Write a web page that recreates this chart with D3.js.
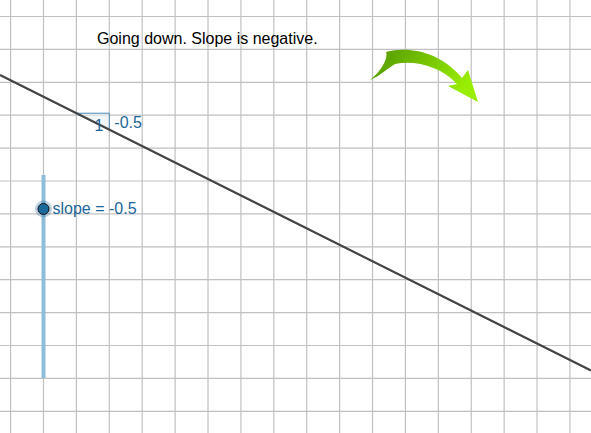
<!DOCTYPE html>
<html><head><meta charset="utf-8">
<script src="https://cdn.jsdelivr.net/npm/d3@7"></script>
<style>body{margin:0;background:#fff}svg{display:block}</style>
</head><body>
<script>
const W=591,H=433;
const slopeValues=[-0.5];
const intercepts=[-1.94];
const triangleStart=[2];
const sliderRange=[-4.82,-10.99];
const sliderValue=[-5.85];
const title=["Going down. Slope is negative."];
const xTicks=d3.range(0,18);
const yTicks=d3.range(-13,1);

const x=d3.scaleLinear().domain([-0.322,17.64]).range([0,W]);
const y=d3.scaleLinear().domain([0.5015,-12.66]).range([0,H]);
const svg=d3.select("body").append("svg").attr("width",W).attr("height",H);
const FONT="Liberation Sans, Arial";

svg.append("g").selectAll("line").data(xTicks).join("line")
 .attr("x1",d=>x(d)).attr("x2",d=>x(d)).attr("y1",0).attr("y2",H)
 .attr("stroke","#c0c0c0").attr("stroke-width",1.2);
svg.append("g").selectAll("line").data(yTicks).join("line")
 .attr("y1",d=>y(d)).attr("y2",d=>y(d)).attr("x1",0).attr("x2",W)
 .attr("stroke","#c0c0c0").attr("stroke-width",1.2);

const m=slopeValues[0],b=intercepts[0];
const f=t=>m*t+b;
const t0=triangleStart[0];
svg.append("path").attr("d",`M${x(t0)},${y(f(t0))}L${x(t0+1)},${y(f(t0))}L${x(t0+1)},${y(f(t0+1))}Z`)
 .attr("fill","#e8f0f5").attr("fill-opacity",0.6).attr("stroke","#4a8ab5").attr("stroke-width",1);
const xd=x.domain();
svg.append("line").attr("x1",x(xd[0])).attr("y1",y(f(xd[0]))).attr("x2",x(xd[1])).attr("y2",y(f(xd[1])))
 .attr("stroke","#444").attr("stroke-width",2.2);
svg.append("text").attr("x",x(t0+0.55)).attr("y",y(f(t0))+18).text("1")
 .attr("font-family",FONT).attr("font-size",16).attr("fill","#1e6699");
svg.append("text").attr("x",x(t0+1)+5).attr("y",y(f(t0))+15).text(String(m))
 .attr("font-family",FONT).attr("font-size",16).attr("fill","#1e6699");

svg.append("line").attr("x1",x(1)).attr("x2",x(1)).attr("y1",y(sliderRange[0])).attr("y2",y(sliderRange[1]))
 .attr("stroke","#8fbcd8").attr("stroke-width",4);
svg.append("circle").attr("cx",x(1)).attr("cy",y(sliderValue[0])).attr("r",8.5).attr("fill","#1e6699").attr("fill-opacity",0.3);
svg.append("circle").attr("cx",x(1)).attr("cy",y(sliderValue[0])).attr("r",5.5).attr("fill","#1a6a9c").attr("stroke","#111").attr("stroke-width",1);
svg.append("text").attr("x",x(1)+9).attr("y",y(sliderValue[0])+5).text("slope = "+m)
 .attr("font-family",FONT).attr("font-size",16).attr("fill","#1e6699");

svg.append("text").attr("x",97).attr("y",44).text(title[0])
 .attr("font-family",FONT).attr("font-size",16).attr("fill","#000");

const g=svg.append("defs").append("linearGradient").attr("id","gr").attr("x1","0").attr("x2","1").attr("y1","0").attr("y2","0.3");
g.append("stop").attr("offset","0").attr("stop-color","#4f9400");
g.append("stop").attr("offset","1").attr("stop-color","#99ee00");
svg.append("path").attr("d","M370,80 C385,68 388,55 386,52 C410,46 440,52 462,78 L468,70 L478,102 L448,86 L457,84 C440,66 415,60 395,64 C388,68 380,76 370,80 Z")
 .attr("fill","url(#gr)");
</script>
</body></html>
